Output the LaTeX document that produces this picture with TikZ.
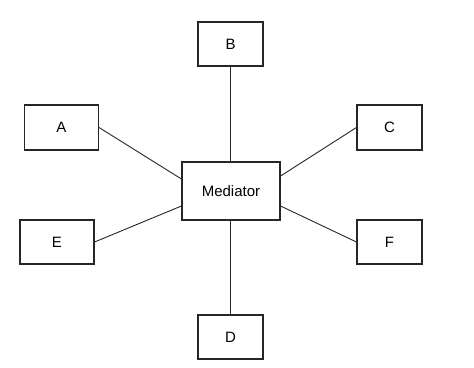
\documentclass[tikz,border=0pt]{standalone}
\usepackage{fontspec}
\setmainfont{Liberation Sans}
\usepackage{tikz}
\usetikzlibrary{calc}

\begin{document}
\begin{tikzpicture}[x=1pt,y=-1pt,
  box/.style={draw=black!85,line width=1.1pt,fill=white,inner sep=0pt,font=\fontsize{15}{18}\selectfont},
  link/.style={draw=black!85,line width=0.9pt}]
  \useasboundingbox (0,0) rectangle (474,367);
  \node[box,minimum width=98pt,minimum height=58pt] (med) at (231,191) {Mediator};
  \node[box,minimum width=65pt,minimum height=44pt] (b) at (230.5,44) {B};
  \node[box,minimum width=74pt,minimum height=45pt] (a) at (61.5,127.5) {A};
  \node[box,minimum width=65pt,minimum height=45pt] (c) at (389.5,127.5) {C};
  \node[box,minimum width=74pt,minimum height=44pt] (e) at (57,242) {E};
  \node[box,minimum width=65pt,minimum height=44pt] (f) at (389.5,242) {F};
  \node[box,minimum width=65pt,minimum height=44pt] (d) at (230.5,337) {D};
  \draw[link] (b.south) -- (b.south |- med.north);
  \draw[link] (d.north) -- (d.north |- med.south);
  \draw[link] (a.east) -- ($(med.west)+(0,-12)$);
  \draw[link] (c.west) -- ($(med.east)+(0,-15)$);
  \draw[link] (e.east) -- ($(med.west)+(0,15)$);
  \draw[link] (f.west) -- ($(med.east)+(0,15)$);
\end{tikzpicture}
\end{document}
